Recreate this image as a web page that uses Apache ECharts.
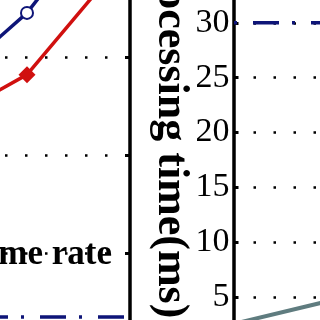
<!DOCTYPE html>
<html>
<head>
<meta charset="utf-8">
<script src="https://cdn.jsdelivr.net/npm/echarts/dist/echarts.min.js"></script>
<style>
html, body { margin: 0; padding: 0; background: #fff; }
#chart { width: 320px; height: 320px; }
</style>
</head>
<body>
<div id="chart"></div>
<script>
// left panel (frame rate), only its right edge is visible
const blueX = [-33, 27, 87]
const blueY = [29.1, 34.5, 42.4]
const redX = [-33, 27, 107]
const redY = [24.8, 28.2, 37.9]
const frameLimitX = [-60, 130]
const frameLimitY = [3.47, 3.47]

// right panel (processing time)
const timeTicks = [0, 5, 10, 15, 20, 25, 30, 35]
const timeLimitX = [0, 200]
const timeLimitY = [30, 30]
const grayX = [0, 120]
const grayY = [2.56, 5.19]

const pairs = (xs, ys) => xs.map((x, i) => [x, ys[i]])

const serif = 'Liberation Serif'
const navy = '#0e1578'

const chart = echarts.init(document.getElementById('chart'))
chart.setOption({
  animation: false,
  backgroundColor: '#fff',
  grid: [
    { left: -60, top: -41, width: 190, height: 392, outerBoundsMode: 'none', containLabel: false },
    { left: 233.5, top: -32, width: 200, height: 384, outerBoundsMode: 'none', containLabel: false }
  ],
  xAxis: [
    { type: 'value', gridIndex: 0, min: -60, max: 130, show: false },
    { type: 'value', gridIndex: 1, min: 0, max: 200, show: false }
  ],
  yAxis: [
    {
      type: 'value',
      gridIndex: 0,
      position: 'right',
      min: 0,
      max: 40,
      interval: 10,
      axisLine: { show: true, onZero: false, lineStyle: { color: '#000', width: 3.5 } },
      axisTick: { show: true, inside: true, length: 5, lineStyle: { color: '#000', width: 3 } },
      axisLabel: { show: false },
      splitLine: {
        show: true,
        lineStyle: { color: '#000', width: 2.5, type: [2.5, 17.5], dashOffset: 15 }
      }
    },
    {
      type: 'value',
      gridIndex: 1,
      position: 'left',
      min: timeTicks[0],
      max: timeTicks[timeTicks.length - 1],
      interval: 5,
      axisLine: { show: true, onZero: false, lineStyle: { color: '#000', width: 3.5 } },
      axisTick: { show: true, inside: true, length: 5, lineStyle: { color: '#000', width: 3 } },
      axisLabel: {
        margin: 4,
        color: '#000',
        fontFamily: serif,
        fontSize: 34,
        formatter: v => (v === 0 ? '' : String(v))
      },
      splitLine: {
        show: true,
        lineStyle: { color: '#000', width: 2.5, type: [2.5, 17.5], dashOffset: 0 }
      }
    }
  ],
  series: [
    {
      type: 'line',
      xAxisIndex: 0,
      yAxisIndex: 0,
      data: pairs(frameLimitX, frameLimitY),
      symbol: 'none',
      lineStyle: { color: navy, width: 3.5, type: [26, 13, 3, 16], dashOffset: 16 }
    },
    {
      type: 'line',
      xAxisIndex: 0,
      yAxisIndex: 0,
      data: pairs(blueX, blueY),
      symbol: 'emptyCircle',
      symbolSize: 12,
      itemStyle: { color: navy, borderColor: navy, borderWidth: 4 },
      lineStyle: { color: navy, width: 3.5 }
    },
    {
      type: 'line',
      xAxisIndex: 0,
      yAxisIndex: 0,
      data: pairs(redX, redY),
      symbol: 'rect',
      symbolSize: 12,
      symbolRotate: 45,
      itemStyle: { color: '#d0100f' },
      lineStyle: { color: '#d0100f', width: 3.5 }
    },
    {
      type: 'line',
      xAxisIndex: 1,
      yAxisIndex: 1,
      data: pairs(timeLimitX, timeLimitY),
      symbol: 'none',
      lineStyle: { color: navy, width: 3.5, type: [26, 13, 3, 16], dashOffset: 38.5 }
    },
    {
      type: 'line',
      xAxisIndex: 1,
      yAxisIndex: 1,
      data: pairs(grayX, grayY),
      symbol: 'none',
      lineStyle: { color: '#5f7c7f', width: 4 }
    }
  ],
  graphic: [
    {
      type: 'text',
      x: 112,
      y: 255,
      style: {
        text: 'Frame rate',
        fill: '#000',
        font: 'bold 35px "Liberation Serif"',
        align: 'right',
        verticalAlign: 'middle'
      }
    },
    {
      type: 'text',
      x: 170,
      y: 130,
      rotation: -Math.PI / 2,
      style: {
        text: 'Processing time(ms)',
        fill: '#000',
        font: 'bold 44px "Liberation Serif"',
        align: 'center',
        verticalAlign: 'middle'
      }
    }
  ]
})
</script>
</body>
</html>
